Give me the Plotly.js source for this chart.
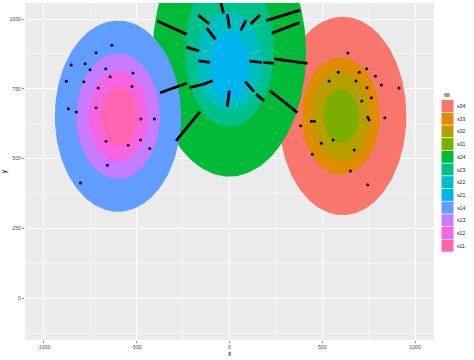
<!DOCTYPE html>
<html><head><meta charset="utf-8">
<script src="https://cdn.plot.ly/plotly-3.0.1.min.js"></script>
<style>html,body{margin:0;padding:0;background:#fff}#chart{width:474px;height:360px}</style>
</head><body><div id="chart"></div>
<script>
// Fill levels (legend order, also drawing order)
const levels = ['s34','s33','s32','s31','s24','s23','s22','s21','s14','s13','s12','s11'];
const colors = ['#F8766D','#DE8C00','#B79F00','#7CAE00','#00BA38','#00C08B','#00BFC4','#00B4F0','#619CFF','#C77CFF','#F564E3','#FF64B0'];
// Ellipse centres and radii (data units)
const ellCx = [610, 600, 600, 601,   0,   0,   0,   0, -600, -600, -598, -595];
const ellCy = [653, 653, 653, 653, 880, 890, 850, 832,  652,  652,  652,  653];
const ellRx = [343, 210, 155,  96, 413, 240, 175, 108,  340,  225,  162,  100];
const ellRy = [355, 210, 160,  96, 444, 276, 176, 122,  342,  225,  162,  107];

// Points
const ptsX = [-633,-718,-852,-777,-750,-666,-519,-642,-878,-784,-706,-524,-867,-824,-718,-477,-404,-664,-545,-479,-429,-657,-802,
              638,587,700,740,786,537,682,819,742,914,765,713,745,752,837,442,458,384,558,495,673,447,652,745];
const ptsY = [906,879,835,840,818,822,807,793,777,775,753,758,679,667,682,642,642,562,548,567,536,476,413,
              878,809,809,822,795,778,778,764,754,753,718,706,648,639,646,634,634,618,567,555,531,516,456,407];

// Segments
const segX0 = [-63,-167,-11,115, 61,198,228,-388,-122,-233,-167,108,183,241,-373,-215,-149,-11, 85,144,219,-158];
const segY0 = [1104,1014,1018,982,958,994,949, 993, 967, 899, 850,849,845,857, 736, 754, 764,686,776,731,743, 668];
const segX1 = [-32,-108,  0,165, 90,381,377,-229, -75,-163,-104,174,241,420,-229,-143, -89,  0,133,187,366,-287];
const segY1 = [1020, 982, 967,1014,996,1032,987,945, 927, 886, 845,845,841,841, 770, 766, 779,743,740,707,665, 564];

const xTicks = [-1000,-500,0,500,1000];
const yTicks = [0,250,500,750,1000];

const traces = [];
const N = 160;
levels.forEach((lv, i) => {
  const xs = [], ys = [];
  for (let k = 0; k <= N; k++) {
    const t = 2 * Math.PI * k / N;
    xs.push(ellCx[i] + ellRx[i] * Math.cos(t));
    ys.push(ellCy[i] + ellRy[i] * Math.sin(t));
  }
  traces.push({type:'scatter', mode:'lines', x:xs, y:ys, fill:'toself', fillcolor:colors[i],
    line:{width:0, color:colors[i]}, name:lv, showlegend:false, hoverinfo:'skip'});
});
const sx = [], sy = [];
segX0.forEach((v, i) => { sx.push(segX0[i], segX1[i], null); sy.push(segY0[i], segY1[i], null); });
traces.push({type:'scatter', mode:'lines', x:sx, y:sy, line:{color:'#000', width:2.8}, showlegend:false, hoverinfo:'skip'});
traces.push({type:'scatter', mode:'markers', x:ptsX, y:ptsY, marker:{color:'#000', size:3}, showlegend:false});

// Legend built from levels/colors
const pl = 25, pr = 434, pt = 3, pb = 340;
const px2x = p => (p - pl) / (pr - pl);
const py2y = p => (pb - p) / (pb - pt);
const shapes = [], annotations = [];
levels.forEach((lv, i) => {
  const c = 106 + i * 12.7;
  shapes.push({type:'rect', xref:'paper', yref:'paper', x0:px2x(441.5), x1:px2x(453.5),
    y0:py2y(c + 6), y1:py2y(c - 6), fillcolor:colors[i], line:{width:0}});
  annotations.push({xref:'paper', yref:'paper', x:px2x(455), y:py2y(c), text:lv, showarrow:false,
    xanchor:'left', yanchor:'middle', font:{size:5.2, color:'#1A1A1A', family:'Liberation Sans, Arial, sans-serif'}});
});
annotations.push({xref:'paper', yref:'paper', x:px2x(441.5), y:py2y(95), text:'fill', showarrow:false,
  xanchor:'left', yanchor:'middle', font:{size:6, color:'#000', family:'Liberation Sans, Arial, sans-serif'}});

const tickfont = {size:5.2, color:'#4D4D4D', family:'Liberation Sans, Arial, sans-serif'};
const layout = {
  width:474, height:360,
  margin:{l:pl, r:474-pr, t:pt, b:360-pb},
  paper_bgcolor:'#FFFFFF', plot_bgcolor:'#EBEBEB',
  showlegend:false,
  xaxis:{range:[-1100.7, 1102], tickmode:'array', tickvals:xTicks, ticktext:xTicks.map(String),
    showgrid:true, gridcolor:'#FFFFFF', gridwidth:1, zeroline:false,
    minor:{tickmode:'array', tickvals:[-750,-250,250,750], showgrid:true, gridcolor:'#FFFFFF', gridwidth:0.5, ticks:''},
    ticks:'outside', ticklen:2, tickwidth:0.6, tickcolor:'#333333', tickfont:tickfont,
    title:{text:'x', font:{size:6.5, color:'#000', family:'Liberation Sans, Arial, sans-serif'}, standoff:1}},
  yaxis:{range:[-149.3, 1057.3], tickmode:'array', tickvals:yTicks, ticktext:yTicks.map(String),
    showgrid:true, gridcolor:'#FFFFFF', gridwidth:1, zeroline:false,
    minor:{tickmode:'array', tickvals:[-125,125,375,625,875], showgrid:true, gridcolor:'#FFFFFF', gridwidth:0.5, ticks:''},
    ticks:'outside', ticklen:2, tickwidth:0.6, tickcolor:'#333333', tickfont:tickfont,
    title:{text:'y', font:{size:6.5, color:'#000', family:'Liberation Sans, Arial, sans-serif'}, standoff:4}},
  shapes:shapes, annotations:annotations
};
Plotly.newPlot('chart', traces, layout, {staticPlot:true, displayModeBar:false});
</script>
</body></html>
